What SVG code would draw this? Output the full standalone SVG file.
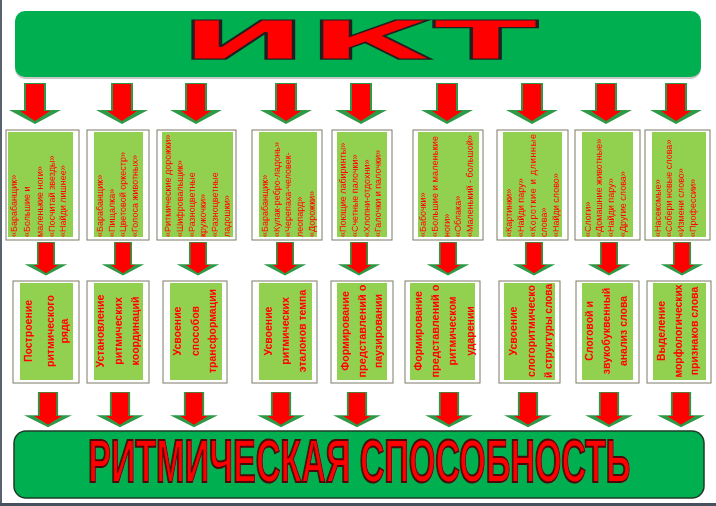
<svg xmlns="http://www.w3.org/2000/svg" width="716" height="506" viewBox="0 0 716 506">
<style>
.frame{fill:#fff;stroke:#7b7b68;stroke-width:1}
.fill{fill:#92d050}
.t1{font-family:"Liberation Sans",Arial,sans-serif;font-size:9px;fill:#ff0000}
.t2{font-family:"Liberation Sans",Arial,sans-serif;font-size:10.5px;font-weight:bold;fill:#ff0000;text-anchor:middle}
.banner{fill:#00b050}
</style>
<defs>
<g id="arr">
<path d="M-11,0 H11 V27 H26 L0,41 L-26,27 H-11 Z" fill="#2e9a48"/>
<path d="M-9,1 H9 V28 H15 L0,38 L-15,28 H-9 Z" fill="#ff0000"/>
</g>
</defs>
<rect x="0" y="0" width="716" height="506" fill="#fff"/>
<rect x="0" y="0" width="2" height="506" fill="#5a6270"/>
<rect x="0" y="503" width="716" height="3" fill="#46505e"/>

<g id="top-banner">
<rect x="15" y="13" width="686" height="66" rx="10" fill="#c8c8c8"/>
<rect x="15" y="11" width="686" height="66" rx="10" class="banner"/>
<text x="179" y="59" textLength="359" lengthAdjust="spacingAndGlyphs" font-family="DejaVu Sans, sans-serif" font-weight="bold" font-size="54" fill="#ff0000" stroke="#202020" stroke-width="1.2">ИКТ</text>
</g>

<g id="connectors">
<use href="#arr" transform="translate(35,83)"/>
<use href="#arr" transform="translate(122,83)"/>
<use href="#arr" transform="translate(196,83)"/>
<use href="#arr" transform="translate(286,83)"/>
<use href="#arr" transform="translate(361,83)"/>
<use href="#arr" transform="translate(447,83)"/>
<use href="#arr" transform="translate(532,83)"/>
<use href="#arr" transform="translate(606,83)"/>
<use href="#arr" transform="translate(676,83)"/>

<use href="#arr" transform="translate(46,242) scale(0.82)"/>
<use href="#arr" transform="translate(123,242) scale(0.82)"/>
<use href="#arr" transform="translate(198,242) scale(0.82)"/>
<use href="#arr" transform="translate(285,242) scale(0.82)"/>
<use href="#arr" transform="translate(359,242) scale(0.82)"/>
<use href="#arr" transform="translate(448,242) scale(0.82)"/>
<use href="#arr" transform="translate(534,242) scale(0.82)"/>
<use href="#arr" transform="translate(609,242) scale(0.82)"/>
<use href="#arr" transform="translate(682,242) scale(0.82)"/>

<use href="#arr" transform="translate(48,392) scale(0.92,0.86)"/>
<use href="#arr" transform="translate(120,392) scale(0.92,0.86)"/>
<use href="#arr" transform="translate(194,392) scale(0.92,0.86)"/>
<use href="#arr" transform="translate(281,392) scale(0.92,0.86)"/>
<use href="#arr" transform="translate(357,392) scale(0.92,0.86)"/>
<use href="#arr" transform="translate(449,392) scale(0.92,0.86)"/>
<use href="#arr" transform="translate(528,392) scale(0.92,0.86)"/>
<use href="#arr" transform="translate(609,392) scale(0.92,0.86)"/>
<use href="#arr" transform="translate(681,392) scale(0.92,0.86)"/>
</g>

<!-- Row 1 -->
<g id="game1">
<rect class="frame" x="6" y="130" width="73" height="110"/>
<rect class="fill" x="8" y="132" width="65" height="105"/>
<text class="t1" transform="translate(17,237) rotate(-90)">«Барабанщик»</text>
<text class="t1" transform="translate(30,237) rotate(-90)">«Большие и</text>
<text class="t1" transform="translate(43,237) rotate(-90)">маленькие ноги»</text>
<text class="t1" transform="translate(55,237) rotate(-90)">«Посчитай звезды»</text>
<text class="t1" transform="translate(66,237) rotate(-90)">«Найди лишнее»</text>
</g>
<g id="game2">
<rect class="frame" x="87" y="130" width="62" height="110"/>
<rect class="fill" x="94" y="132" width="49" height="105"/>
<text class="t1" transform="translate(103,237) rotate(-90)">«Барабанщик»</text>
<text class="t1" transform="translate(115,237) rotate(-90)">«Пищалка»</text>
<text class="t1" transform="translate(126,237) rotate(-90)">«Цветовой оркестр»</text>
<text class="t1" transform="translate(138,237) rotate(-90)">«Голоса животных»</text>
</g>
<g id="game3">
<rect class="frame" x="157" y="130" width="79" height="110"/>
<rect class="fill" x="162" y="132" width="71" height="105"/>
<text class="t1" transform="translate(171,237) rotate(-90)">«Ритмические дорожки»</text>
<text class="t1" transform="translate(183,237) rotate(-90)">«Шифровальщик»</text>
<text class="t1" transform="translate(195,237) rotate(-90)">«Разноцветные</text>
<text class="t1" transform="translate(206,237) rotate(-90)">кружочки»</text>
<text class="t1" transform="translate(218,237) rotate(-90)">«Разноцветные</text>
<text class="t1" transform="translate(230,237) rotate(-90)">ладошки»</text>
</g>
<g id="game4">
<rect class="frame" x="252" y="130" width="70" height="110"/>
<rect class="fill" x="259" y="132" width="58" height="105"/>
<text class="t1" transform="translate(268,237) rotate(-90)">«Барабанщик»</text>
<text class="t1" transform="translate(280,237) rotate(-90)">«Кулак-ребро-ладонь»</text>
<text class="t1" transform="translate(291,237) rotate(-90)">«Черепаха-человек-</text>
<text class="t1" transform="translate(303,237) rotate(-90)">леопард»</text>
<text class="t1" transform="translate(315,237) rotate(-90)">«Дорожки»</text>
</g>
<g id="game5">
<rect class="frame" x="332" y="130" width="60" height="110"/>
<rect class="fill" x="337" y="132" width="50" height="105"/>
<text class="t1" transform="translate(346,237) rotate(-90)">«Поющие лабиринты»</text>
<text class="t1" transform="translate(358,237) rotate(-90)">«Счетные палочки»</text>
<text class="t1" transform="translate(370,237) rotate(-90)">«Хлопни-отдохни»</text>
<text class="t1" transform="translate(381,237) rotate(-90)">«Галочки и палочки»</text>
</g>
<g id="game6">
<rect class="frame" x="413" y="130" width="70" height="110"/>
<rect class="fill" x="418" y="132" width="61" height="105"/>
<text class="t1" transform="translate(426,237) rotate(-90)">«Бабочки»</text>
<text class="t1" transform="translate(438,237) rotate(-90)" textLength="101" lengthAdjust="spacing">«Большие и маленькие</text>
<text class="t1" transform="translate(450,237) rotate(-90)">ноги»</text>
<text class="t1" transform="translate(461,237) rotate(-90)">«Облака»</text>
<text class="t1" transform="translate(473,237) rotate(-90)">«Маленький - большой»</text>
</g>
<g id="game7">
<rect class="frame" x="497" y="130" width="71" height="110"/>
<rect class="fill" x="503" y="132" width="59" height="105"/>
<text class="t1" transform="translate(512,237) rotate(-90)">«Картинки»</text>
<text class="t1" transform="translate(524,237) rotate(-90)">«Найди пару»</text>
<text class="t1" transform="translate(536,237) rotate(-90)" textLength="103" lengthAdjust="spacing">«Короткие и длинные</text>
<text class="t1" transform="translate(547,237) rotate(-90)">слова»</text>
<text class="t1" transform="translate(559,237) rotate(-90)">«Найди слово»</text>
</g>
<g id="game8">
<rect class="frame" x="575" y="130" width="65" height="110"/>
<rect class="fill" x="582" y="132" width="51" height="105"/>
<text class="t1" transform="translate(591,237) rotate(-90)">«Слоги»</text>
<text class="t1" transform="translate(602,237) rotate(-90)">«Домашние животные»</text>
<text class="t1" transform="translate(614,237) rotate(-90)">«Найди пару»</text>
<text class="t1" transform="translate(626,237) rotate(-90)">«Другие слова»</text>
</g>
<g id="game9">
<rect class="frame" x="645" y="130" width="65" height="110"/>
<rect class="fill" x="652" y="132" width="54" height="105"/>
<text class="t1" transform="translate(661,237) rotate(-90)">«Насекомые»</text>
<text class="t1" transform="translate(672,237) rotate(-90)">«Собери новые слова»</text>
<text class="t1" transform="translate(684,237) rotate(-90)">«Измени слово»</text>
<text class="t1" transform="translate(696,237) rotate(-90)">«Профессии»</text>
</g>

<!-- Row 2 -->
<g id="goal1">
<rect class="frame" x="13" y="281" width="66" height="102"/>
<rect class="fill" x="20" y="283" width="53" height="97"/>
<text class="t2" transform="translate(32,331) rotate(-90)">Построение</text>
<text class="t2" transform="translate(54,331) rotate(-90)">ритмического</text>
<text class="t2" transform="translate(68,331) rotate(-90)">ряда</text>
</g>
<g id="goal2">
<rect class="frame" x="87" y="281" width="62" height="102"/>
<rect class="fill" x="94" y="283" width="49" height="97"/>
<text class="t2" transform="translate(104,331) rotate(-90)">Установление</text>
<text class="t2" transform="translate(122,331) rotate(-90)">ритмических</text>
<text class="t2" transform="translate(139,331) rotate(-90)">координаций</text>
</g>
<g id="goal3">
<rect class="frame" x="163" y="281" width="64" height="102"/>
<rect class="fill" x="170" y="283" width="52" height="97"/>
<text class="t2" transform="translate(181,331) rotate(-90)">Усвоение</text>
<text class="t2" transform="translate(199,331) rotate(-90)">способов</text>
<text class="t2" transform="translate(216,331) rotate(-90)">трансформации</text>
</g>
<g id="goal4">
<rect class="frame" x="252" y="281" width="65" height="102"/>
<rect class="fill" x="259" y="283" width="53" height="97"/>
<text class="t2" transform="translate(272,331) rotate(-90)">Усвоение</text>
<text class="t2" transform="translate(289,331) rotate(-90)">ритмических</text>
<text class="t2" transform="translate(306,331) rotate(-90)">эталонов темпа</text>
</g>
<g id="goal5">
<rect class="frame" x="331" y="281" width="62" height="102"/>
<rect class="fill" x="337" y="283" width="50" height="97"/>
<text class="t2" transform="translate(349,331) rotate(-90)">Формирование</text>
<text class="t2" transform="translate(366,331) rotate(-90)" textLength="93" lengthAdjust="spacingAndGlyphs">представлений о</text>
<text class="t2" transform="translate(382,331) rotate(-90)">паузировании</text>
</g>
<g id="goal6">
<rect class="frame" x="405" y="281" width="75" height="102"/>
<rect class="fill" x="410" y="283" width="65" height="97"/>
<text class="t2" transform="translate(422,331) rotate(-90)">Формирование</text>
<text class="t2" transform="translate(439,331) rotate(-90)" textLength="93" lengthAdjust="spacingAndGlyphs">представлений о</text>
<text class="t2" transform="translate(456,331) rotate(-90)">ритмическом</text>
<text class="t2" transform="translate(474,331) rotate(-90)">ударении</text>
</g>
<g id="goal7">
<rect class="frame" x="499" y="281" width="61" height="102"/>
<rect class="fill" x="504" y="283" width="51" height="97"/>
<text class="t2" transform="translate(517,331) rotate(-90)">Усвоение</text>
<text class="t2" transform="translate(535,331) rotate(-90)" textLength="92" lengthAdjust="spacingAndGlyphs">слогоритмическо</text>
<text class="t2" transform="translate(552,331) rotate(-90)" textLength="94" lengthAdjust="spacingAndGlyphs">й структуры слова</text>
</g>
<g id="goal8">
<rect class="frame" x="576" y="281" width="63" height="102"/>
<rect class="fill" x="582" y="283" width="51" height="97"/>
<text class="t2" transform="translate(593,331) rotate(-90)">Слоговой и</text>
<text class="t2" transform="translate(610,331) rotate(-90)">звукобуквенный</text>
<text class="t2" transform="translate(627,331) rotate(-90)">анализ слова</text>
</g>
<g id="goal9">
<rect class="frame" x="647" y="281" width="64" height="102"/>
<rect class="fill" x="653" y="283" width="53" height="97"/>
<text class="t2" transform="translate(665,331) rotate(-90)">Выделение</text>
<text class="t2" transform="translate(682,331) rotate(-90)" textLength="93" lengthAdjust="spacingAndGlyphs">морфологических</text>
<text class="t2" transform="translate(698,331) rotate(-90)">признаков слова</text>
</g>

<g id="bottom-banner">
<rect x="14" y="431" width="690" height="67" rx="12" class="banner" stroke="#1d3b28" stroke-width="1.5"/>
<text transform="translate(88,482) scale(0.559,1)" font-family="Liberation Sans, Arial, sans-serif" font-weight="bold" font-size="61" fill="#ff0000" stroke="#4a0a0a" stroke-width="2">РИТМИЧЕСКАЯ СПОСОБНОСТЬ</text>
</g>
</svg>
